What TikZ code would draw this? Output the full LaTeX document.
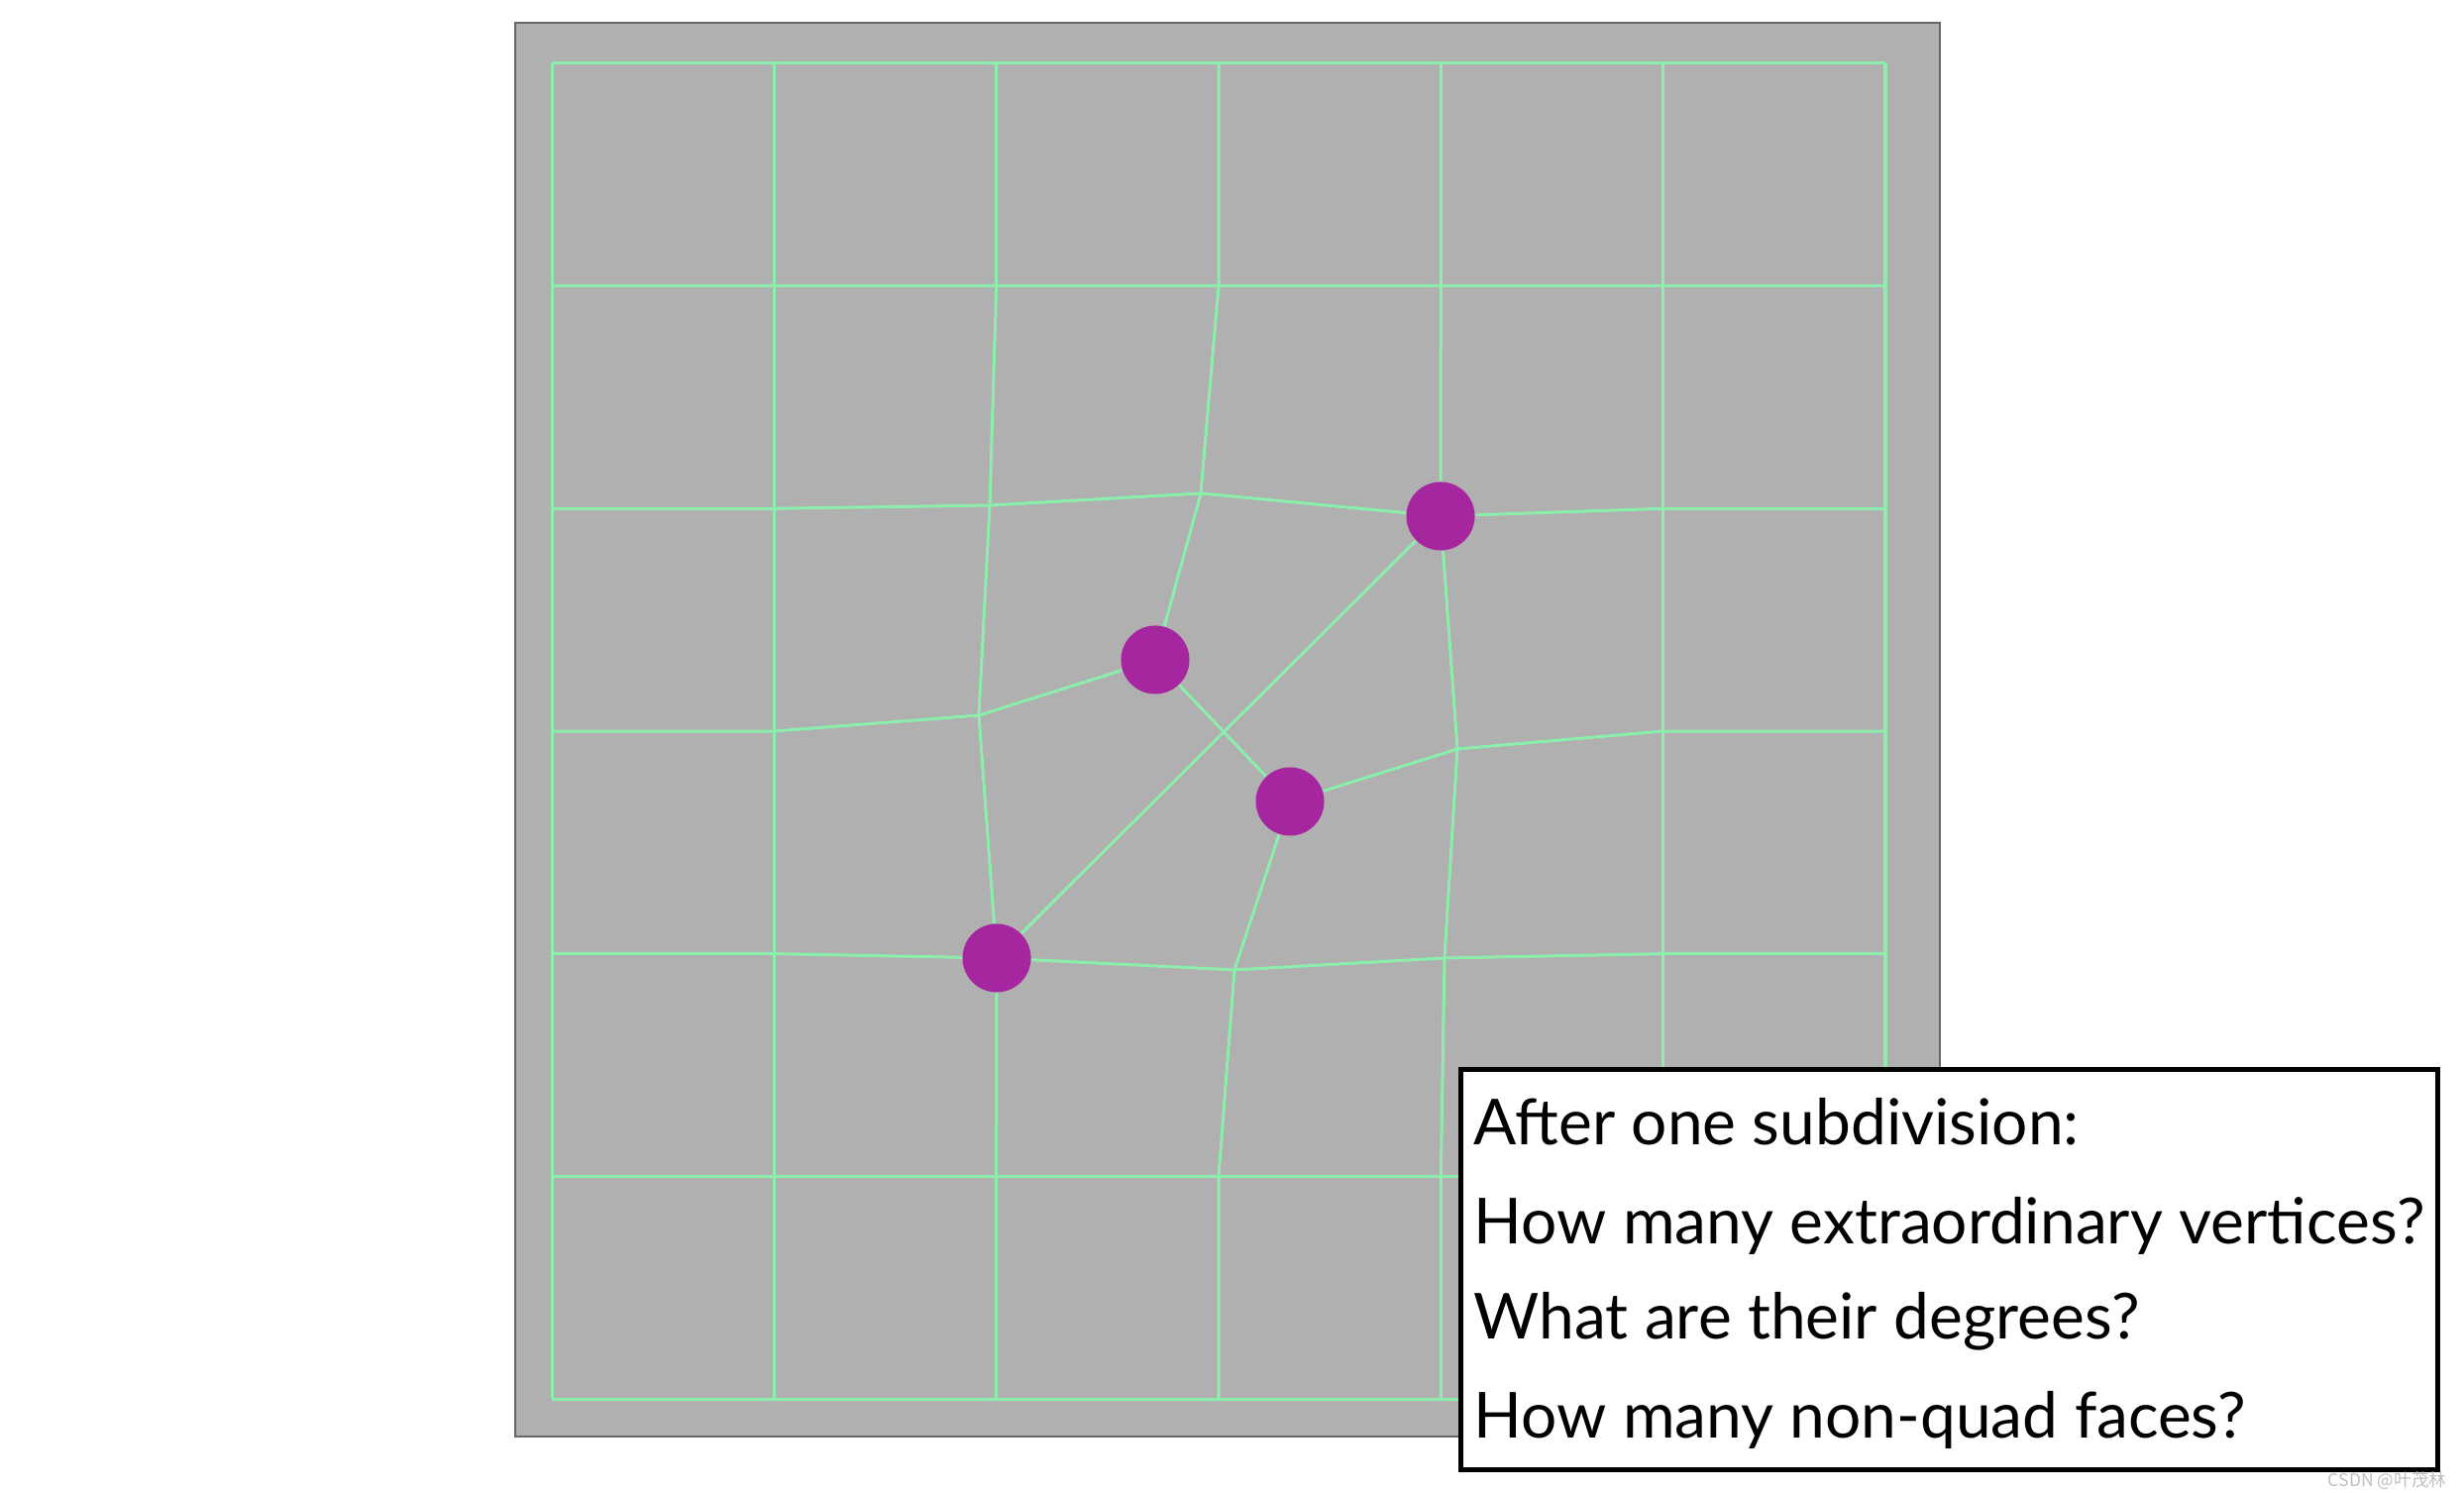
\documentclass[tikz,border=0pt]{standalone}
\usepackage{fontspec}
\setmainfont{Lato}
\newfontfamily\cjk{Noto Sans CJK SC}
\usetikzlibrary{positioning}
\definecolor{meshgreen}{RGB}{140,238,172}
\definecolor{panelgray}{RGB}{176,176,176}
\definecolor{dotpurple}{RGB}{166,38,160}

\begin{document}
\begin{tikzpicture}[x=0.01cm,y=-0.01cm,
  edge/.style={meshgreen,line width=0.03cm,line join=round},
  vdot/.style={circle,fill=dotpurple,inner sep=0pt,minimum size=0.69cm},
  qbox/.style={draw,fill=white,line width=0.05cm,inner sep=0pt,minimum width=9.86cm,minimum height=4.03cm},
  qline/.style={anchor=base west,inner sep=0pt,font=\fontsize{18.2}{22}\selectfont}]
	\useasboundingbox (0,0) rectangle (2487,1507);
	\fill[white] (0,0) rectangle (2487,1507);
	\draw[fill=panelgray,draw=black!60,line width=0.02cm] (520,23) rectangle (1958,1450);
	\foreach \i in {0,...,6}
	  \foreach \j in {0,...,6}
	    \coordinate (g-\i-\j) at ({557+224.33*\i},{64+224.67*\j});
	\coordinate (a22) at (999,510);
	\coordinate (a32) at (1212,498);
	\coordinate (a23) at (988,722);
	\coordinate (a43) at (1471,756);
	\coordinate (a34) at (1246,979);
	\coordinate (a44) at (1458,967);
	\node[vdot] at (1454,521) (tr) {};
	\node[vdot] at (1166,666) (ml) {};
	\node[vdot] at (1302,809) (mr) {};
	\node[vdot] at (1006,967) (bl) {};
	\foreach \j in {0,1,5,6} \draw[edge] (g-0-\j) -- (g-6-\j);
	\foreach \i in {0,1,5,6} \draw[edge] (g-\i-0) -- (g-\i-6);
	\draw[edge] (g-0-2) -- (g-1-2) -- (a22) -- (a32) -- (tr) -- (g-5-2) -- (g-6-2);
	\draw[edge] (g-0-3) -- (g-1-3) -- (a23) -- (ml);
	\draw[edge] (mr) -- (a43) -- (g-5-3) -- (g-6-3);
	\draw[edge] (g-0-4) -- (g-1-4) -- (bl) -- (a34) -- (a44) -- (g-5-4) -- (g-6-4);
	\draw[edge] (g-2-0) -- (g-2-1) -- (a22) -- (a23) -- (bl) -- (g-2-5) -- (g-2-6);
	\draw[edge] (g-3-0) -- (g-3-1) -- (a32) -- (ml);
	\draw[edge] (mr) -- (a34) -- (g-3-5) -- (g-3-6);
	\draw[edge] (g-4-0) -- (g-4-1) -- (tr) -- (a43) -- (a44) -- (g-4-5) -- (g-4-6);
	\draw[edge] (tr) -- (bl);
	\draw[edge] (ml) -- (mr);
	\node[qbox] at (1967.5,1281.5) (box) {};
	\node[qline] at (1487,1156) (q1) {After one subdivision:};
	\node[qline] at (1487,1255) (q2) {How many extraordinary vertices?};
	\node[qline] at (1487,1352) (q3) {What are their degrees?};
	\node[qline] at (1487,1451) (q4) {How many non-quad faces?};
	\node[anchor=base east,inner sep=0pt,text=black!25,font=\cjk\fontsize{5}{6}\selectfont] at (2470,1500) (mark) {CSDN @叶茂林};
\end{tikzpicture}
\end{document}
